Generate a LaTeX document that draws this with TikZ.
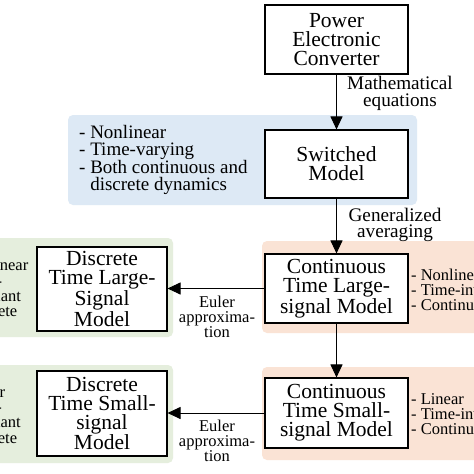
\documentclass[tikz,border=0pt]{standalone}
\usepackage{fontspec}
\setmainfont{Liberation Serif}
\usetikzlibrary{arrows.meta}
\definecolor{bluebg}{RGB}{221,233,245}
\definecolor{orangebg}{RGB}{250,227,213}
\definecolor{greenbg}{RGB}{229,238,221}
\tikzset{
  model/.style={draw, line width=1.1pt, fill=white, align=center, inner sep=0pt,
    minimum width=143pt, font=\fontsize{21.5}{19}\selectfont},
  dmodel/.style={model, minimum width=130pt},
  bgbox/.style={rounded corners=5pt, draw=none},
  lbl/.style={align=center, inner sep=0pt, font=\fontsize{19.2}{16.8}\selectfont},
  elbl/.style={align=center, inner sep=0pt, font=\fontsize{16.5}{15.2}\selectfont},
  biglst/.style={align=left, inner sep=0pt, font=\fontsize{19}{17.3}\selectfont},
  smlst/.style={align=left, inner sep=0pt, font=\fontsize{16.5}{15.2}\selectfont},
  arr/.style={-{Triangle[length=13pt,width=12pt]}, line width=1pt}
}
\begin{document}
\begin{tikzpicture}[x=1pt,y=-1pt]
\useasboundingbox (0,0) rectangle (474,474);
\clip (0,0) rectangle (474,474);
\fill[white] (0,0) rectangle (474,474);
% backgrounds
\fill[bluebg, bgbox] (68,115) rectangle (417,205);
\fill[orangebg, bgbox] (262,241) rectangle (490,333);
\fill[orangebg, bgbox] (262,367) rectangle (490,460);
\fill[greenbg, bgbox] (-20,238) rectangle (173,337);
\fill[greenbg, bgbox] (-20,365) rectangle (173,463);
% model boxes
\node[model, minimum height=69pt] (pec) at (336.5,39.5) {Power\\Electronic\\Converter};
\node[model, minimum height=68pt] (sw) at (336.5,164) {Switched\\Model};
\node[model, minimum height=69pt] (ctl) at (336.5,288.5) {Continuous\\Time Large-\\signal Model};
\node[model, minimum height=70pt] (cts) at (336.5,413) {Continuous\\Time Small-\\signal Model};
\node[dmodel, minimum height=84pt] (dtl) at (102,289) {Discrete\\Time Large-\\Signal\\Model};
\node[dmodel, minimum height=85pt] (dts) at (102,413.5) {Discrete\\Time Small-\\signal\\Model};
% connectors
\draw[arr] (pec) -- (sw);
\draw[arr] (sw) -- (ctl);
\draw[arr] (ctl) -- (cts);
\draw[arr] (ctl.west) -- (ctl.west -| dtl.east);
\draw[arr] (cts.west) -- (cts.west -| dts.east);
% labels
\node[lbl] (l1) at (400,93) {Mathematical\\equations};
\node[lbl] (l2) at (395,225) {Generalized\\averaging};
\node[elbl] (l3) at (217,317) {Euler\\approxima-\\tion};
\node[elbl] (l4) at (217,441) {Euler\\approxima-\\tion};
% property lists
\node[biglst, anchor=west] (p1) at (79,160) {- Nonlinear\\- Time-varying\\- Both continuous and\\\hphantom{- }discrete dynamics};
\node[smlst, anchor=west] (p2) at (411,290) {- Nonlinear\\- Time-invariant\\- Continuous};
\node[smlst, anchor=west] (p3) at (411,414) {- Linear\\- Time-invariant\\- Continuous};
\node[smlst, anchor=east] (p4) at (28.5,288) {- Nonlinear\\- Time-\\\hphantom{- }invariant\\- Discrete};
\node[smlst, anchor=east] (p5) at (21,415) {- Linear\\- Time-\\\hphantom{- }invariant\\- Discrete};
\end{tikzpicture}
\end{document}
